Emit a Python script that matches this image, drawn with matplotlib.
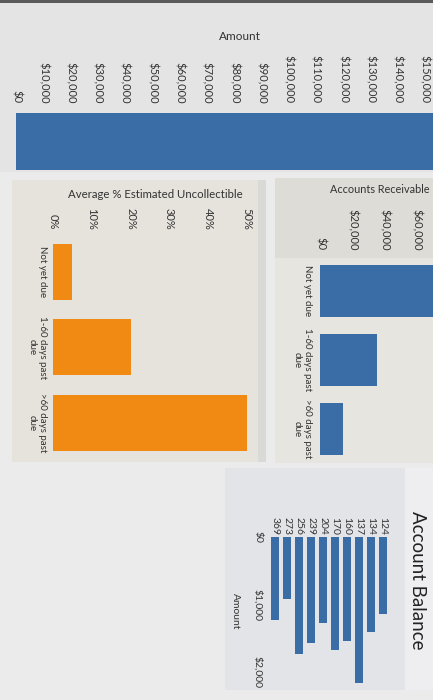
import matplotlib
matplotlib.use("Agg")
import matplotlib.pyplot as plt
from matplotlib.patches import Rectangle
from matplotlib.ticker import PercentFormatter, FuncFormatter

plt.rcParams['font.family'] = ['Lato', 'DejaVu Sans']

buckets = ["Not yet due", "1-60 days past\ndue", ">60 days past\ndue"]
pct_uncollectible = [5, 20, 50]
ar_amounts = [120000, 35000, 14000]
customer_ids = ["124", "134", "137", "160", "170", "204", "239", "256", "273", "369"]
balances = [1140, 1410, 2160, 1540, 1670, 1270, 1570, 1730, 920, 1230]
amount_ticks = list(range(0, 150001, 10000))
pct_ticks = [0, 10, 20, 30, 40, 50]
ar_ticks = [0, 20000, 40000, 60000]
balance_ticks = [0, 1000, 2000]

W, H = 433, 700
azul = "#3a6ca6"
naranja = "#f08a12"
gris_txt = "#333333"
dinero = FuncFormatter(lambda v, p: f"${v:,.0f}")

fig = plt.figure(figsize=(W / 100, H / 100), dpi=100)
fig.patch.set_facecolor("#ebebec")


def caja(x0, y0, x1, y1, color):
    fig.add_artist(Rectangle((x0 / W, 1 - y1 / H), (x1 - x0) / W, (y1 - y0) / H,
                             transform=fig.transFigure, color=color, zorder=-1, lw=0))


def ejes(x0, y0, x1, y1):
    ax = fig.add_axes([x0 / W, 1 - y1 / H, (x1 - x0) / W, (y1 - y0) / H])
    ax.set_facecolor("none")
    for s in ax.spines.values():
        s.set_visible(False)
    return ax


def texto(x, y, s, **kw):
    kw.setdefault("color", gris_txt)
    return fig.text(x / W, 1 - y / H, s, **kw)


# paneles de fondo
caja(0, 0, 433, 3, "#5a5a5a")
caja(0, 3, 433, 172, "#e4e4e4")
caja(12, 180, 258, 462, "#e6e3dd")
caja(258, 180, 266, 462, "#d9d9d7")
caja(275, 178, 433, 463, "#e7e5df")
caja(275, 178, 433, 258, "#dedcd6")
caja(225, 468, 405, 690, "#e3e4e8")
caja(405, 468, 433, 690, "#eeeef0")

# grafico superior: monto total
ax1 = ejes(16, 113, 433, 170)
ax1.barh([0], [sum(ar_amounts)], height=1.0, color=azul)
ax1.set_xlim(0, 153000)
ax1.set_ylim(-0.5, 0.5)
ax1.xaxis.tick_top()
ax1.set_xticks(amount_ticks)
ax1.xaxis.set_major_formatter(dinero)
ax1.tick_params(axis='x', length=0, pad=7, labelrotation=270, labelsize=8, labelcolor=gris_txt)
ax1.set_yticks([])
texto(240, 37, "Amount", ha="center", va="center", fontsize=8.5)

# porcentaje incobrable
ax2 = ejes(53, 234, 255, 460.5)
ax2.barh(range(len(buckets)), pct_uncollectible, height=0.74, color=naranja)
ax2.set_ylim(len(buckets) - 0.5, -0.5)
ax2.set_xlim(0, 52.06)
ax2.xaxis.tick_top()
ax2.set_xticks(pct_ticks)
ax2.xaxis.set_major_formatter(PercentFormatter(decimals=0))
ax2.tick_params(axis='x', length=0, pad=3, labelrotation=270, labelsize=8, labelcolor=gris_txt)
ax2.set_yticks(range(len(buckets)), labels=buckets)
ax2.tick_params(axis='y', length=0, pad=4, labelsize=7, labelcolor=gris_txt)
for t in ax2.get_yticklabels():
    t.set_rotation(270)
    t.set_va("center")
    t.set_multialignment("center")
texto(155, 195, "Average % Estimated Uncollectible", ha="center", va="center", fontsize=8.2)

# cuentas por cobrar
ax3 = ejes(320, 256.5, 433, 463.5)
ax3.barh(range(len(buckets)), ar_amounts, height=0.75, color=azul)
ax3.set_ylim(len(buckets) - 0.5, -0.5)
ax3.set_xlim(0, 69900)
ax3.xaxis.tick_top()
ax3.set_xticks(ar_ticks)
ax3.xaxis.set_major_formatter(dinero)
ax3.tick_params(axis='x', length=0, pad=4.5, labelrotation=270, labelsize=8, labelcolor=gris_txt)
ax3.set_yticks(range(len(buckets)), labels=buckets)
ax3.tick_params(axis='y', length=0, pad=6, labelsize=7, labelcolor=gris_txt)
for t in ax3.get_yticklabels():
    t.set_rotation(270)
    t.set_va("center")
    t.set_multialignment("center")
texto(430, 190, "Accounts Receivable", ha="right", va="center", fontsize=7.8)

# saldo por cliente
ax4 = ejes(269, 537, 389, 688)
ax4.bar(range(len(customer_ids)), balances, width=0.67, color=azul)
ax4.set_xlim(len(customer_ids) - 0.5, -0.5)
ax4.set_ylim(2237, 0)
ax4.xaxis.tick_top()
ax4.set_xticks(range(len(customer_ids)), labels=customer_ids)
ax4.tick_params(axis='x', length=0, pad=1.5, labelrotation=270, labelsize=7.5, labelcolor=gris_txt)
ax4.set_yticks(balance_ticks)
ax4.yaxis.set_major_formatter(dinero)
ax4.tick_params(axis='y', length=0, pad=5, labelrotation=270, labelsize=7.5, labelcolor=gris_txt)
for t in ax4.get_yticklabels():
    t.set_va("center")
texto(235, 611, "Amount", ha="center", va="center", rotation=270, fontsize=7.5)
texto(418, 580, "Account Balance", ha="center", va="center", rotation=270, fontsize=13.5, color="#222222")

fig.savefig("out.png", dpi=100)
